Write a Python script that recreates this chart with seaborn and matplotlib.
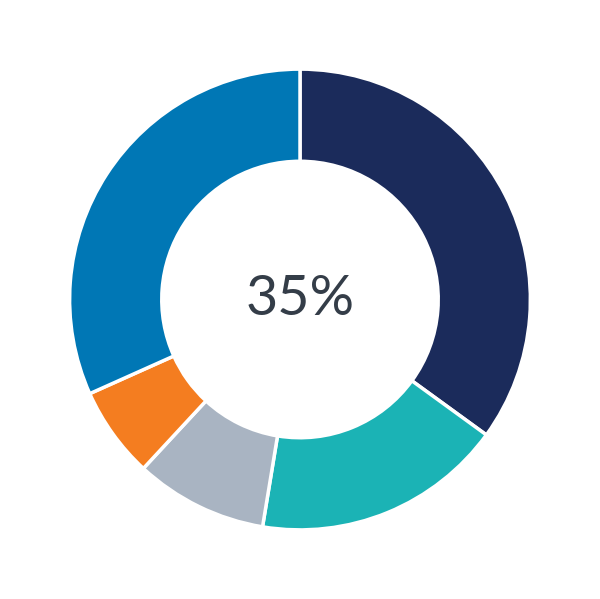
import matplotlib
matplotlib.use("Agg")
import matplotlib.pyplot as plt
import seaborn as sns

# segment shares, clockwise from 12 o'clock
labels = ["Navy", "Teal", "Gray", "Orange", "Blue"]
shares = [35, 17.6, 9.3, 6.4, 31.7]
colors = ["#1b2b5b", "#1bb3b5", "#a9b4c2", "#f47d20", "#0077b5"]
center_label = "35%"

sns.set_theme(style="white")
plt.rcParams["font.family"] = ["Lato", "DejaVu Sans"]

fig = plt.figure(figsize=(6, 5.99), dpi=100)
ax = fig.add_axes([0, 0, 1, 1])

ax.pie(shares, colors=sns.color_palette(colors), startangle=90, counterclock=False,
       radius=1.0, wedgeprops=dict(width=0.4, edgecolor="white", linewidth=2.5))

ax.text(0, 0, center_label, ha="center", va="center", fontsize=40,
        fontweight="normal", color="#343d48")

ax.set_xlim(-1.3, 1.3)
ax.set_ylim(-1.3, 1.3)
ax.set_aspect("equal")
ax.axis("off")

fig.savefig("out.png", dpi=100, facecolor="white")
